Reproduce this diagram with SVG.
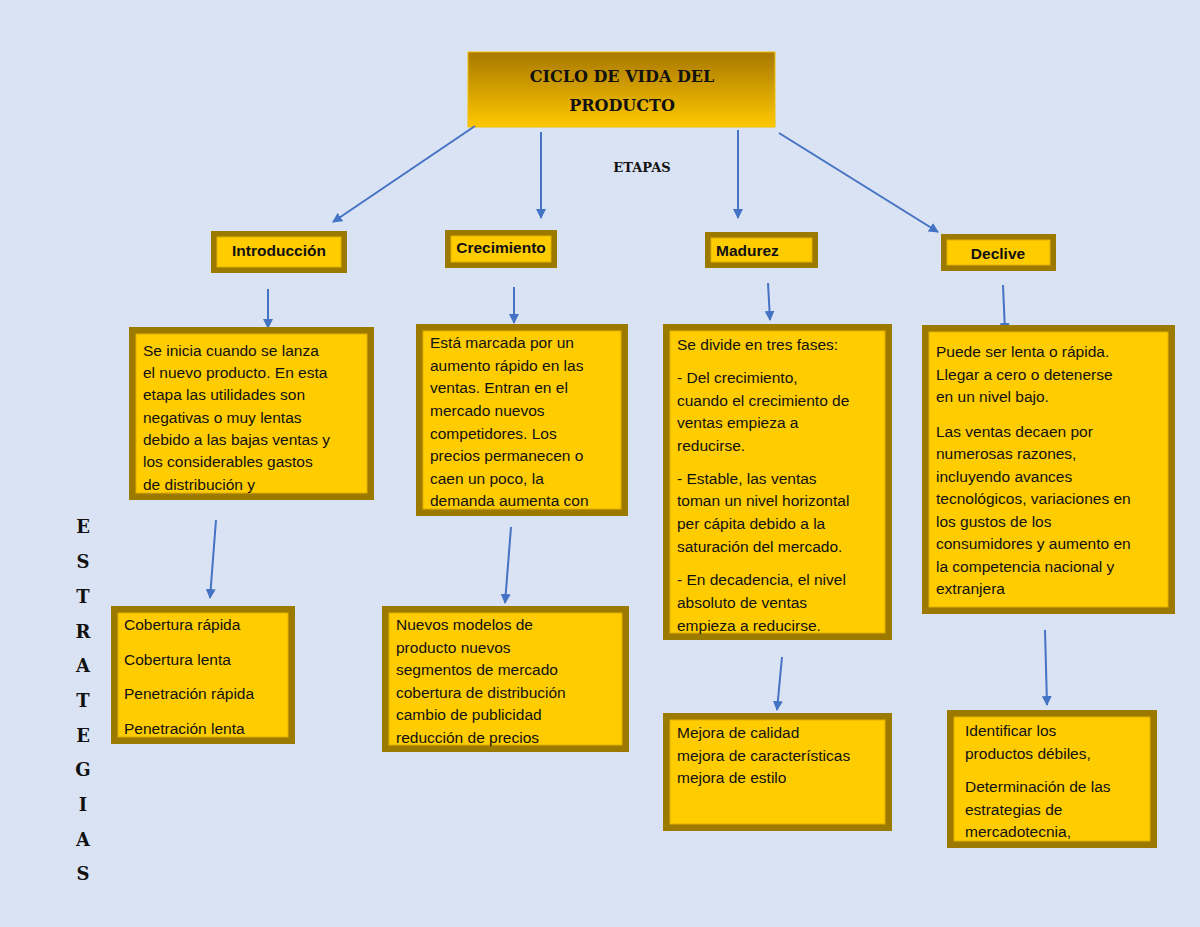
<svg xmlns="http://www.w3.org/2000/svg" width="1200" height="927" viewBox="0 0 1200 927">
<style>
.o{fill:#9c7a00}.i{fill:#ffcc00;stroke:#e0b000;stroke-width:1}
.t{font-family:"Liberation Sans",Arial,sans-serif;font-size:15.5px;fill:#111}
.h{font-family:"Liberation Sans",Arial,sans-serif;font-size:15.5px;font-weight:bold;fill:#111}
.s{font-family:"DejaVu Serif",serif;font-weight:bold;fill:#111}
.c{stroke:#4472c4;stroke-width:2;fill:none;marker-end:url(#a)}
</style>
<defs>
<marker id="a" viewBox="0 0 10 10" refX="9" refY="5" markerWidth="5" markerHeight="5" orient="auto"><path d="M0,0L10,5L0,10z" fill="#4472c4"/></marker>
<linearGradient id="g" x1="0" y1="0" x2="0" y2="1"><stop offset="0" stop-color="#a87800"/><stop offset="1" stop-color="#ffc800"/></linearGradient>
</defs>
<rect width="1200" height="927" fill="#dae3f3"/>
<g id="title"><rect x="468" y="52" width="307" height="75" fill="url(#g)" stroke="#f0c000"/>
<text class="s" font-size="16" x="622" y="82" text-anchor="middle">CICLO DE VIDA DEL</text>
<text class="s" font-size="16" x="622" y="111" text-anchor="middle">PRODUCTO</text></g>
<text id="etapas" class="s" font-size="13" x="642" y="172" text-anchor="middle">ETAPAS</text>
<g id="connectors">
<line class="c" x1="475" y1="126" x2="333" y2="222"/>
<line class="c" x1="541" y1="132" x2="541" y2="218"/>
<line class="c" x1="738" y1="130" x2="738" y2="218"/>
<line class="c" x1="779" y1="133" x2="938" y2="232"/>
<line class="c" x1="268" y1="289" x2="268" y2="328"/>
<line class="c" x1="514" y1="287" x2="514" y2="323"/>
<line class="c" x1="768" y1="283" x2="770" y2="320"/>
<line class="c" x1="1003" y1="285" x2="1005" y2="332"/>
<line class="c" x1="216" y1="520" x2="210" y2="598"/>
<line class="c" x1="511" y1="527" x2="505" y2="603"/>
<line class="c" x1="782" y1="657" x2="777" y2="710"/>
<line class="c" x1="1045" y1="630" x2="1047" y2="705"/>
</g>
<g id="intro"><rect class="o" x="211" y="231" width="136" height="42"/><rect class="i" x="217" y="237" width="124" height="30"/><text class="h" x="279" y="256" text-anchor="middle">Introducción</text></g>
<g id="crec"><rect class="o" x="445" y="230" width="112" height="38"/><rect class="i" x="451" y="236" width="100" height="26"/><text class="h" x="501" y="253" text-anchor="middle">Crecimiento</text></g>
<g id="mad"><rect class="o" x="705" y="232" width="113" height="36"/><rect class="i" x="711" y="238" width="101" height="24"/><text class="h" x="716" y="256">Madurez</text></g>
<g id="decl"><rect class="o" x="941" y="234" width="115" height="37"/><rect class="i" x="947" y="240" width="103" height="25"/><text class="h" x="998" y="259" text-anchor="middle">Declive</text></g>
<g id="t1"><rect class="o" x="129" y="327" width="245" height="173"/><rect class="i" x="136" y="334" width="231" height="159"/>
<text class="t" x="143" y="356">Se inicia cuando se lanza</text><text class="t" x="143" y="378">el nuevo producto. En esta</text><text class="t" x="143" y="400">etapa las utilidades son</text><text class="t" x="143" y="423">negativas o muy lentas</text><text class="t" x="143" y="445">debido a las bajas ventas y</text><text class="t" x="143" y="467">los considerables gastos</text><text class="t" x="143" y="490">de distribución y</text></g>
<g id="t2"><rect class="o" x="416" y="324" width="212" height="192"/><rect class="i" x="423" y="331" width="198" height="178"/>
<text class="t" x="430" y="348">Está marcada por un</text><text class="t" x="430" y="371">aumento rápido en las</text><text class="t" x="430" y="393">ventas. Entran en el</text><text class="t" x="430" y="416">mercado nuevos</text><text class="t" x="430" y="439">competidores. Los</text><text class="t" x="430" y="461">precios permanecen o</text><text class="t" x="430" y="484">caen un poco, la</text><text class="t" x="430" y="506">demanda aumenta con</text></g>
<g id="t3"><rect class="o" x="663" y="324" width="229" height="316"/><rect class="i" x="670" y="331" width="215" height="302"/>
<text class="t" x="677" y="350">Se divide en tres fases:</text><text class="t" x="677" y="383">- Del crecimiento,</text><text class="t" x="677" y="406">cuando el crecimiento de</text><text class="t" x="677" y="428">ventas empieza a</text><text class="t" x="677" y="451">reducirse.</text><text class="t" x="677" y="484">- Estable, las ventas</text><text class="t" x="677" y="506">toman un nivel horizontal</text><text class="t" x="677" y="529">per cápita debido a la</text><text class="t" x="677" y="552">saturación del mercado.</text><text class="t" x="677" y="585">- En decadencia, el nivel</text><text class="t" x="677" y="608">absoluto de ventas</text><text class="t" x="677" y="631">empieza a reducirse.</text></g>
<g id="t4"><rect class="o" x="922" y="325" width="253" height="289"/><rect class="i" x="929" y="332" width="239" height="275"/>
<text class="t" x="936" y="357">Puede ser lenta o rápida.</text><text class="t" x="936" y="380">Llegar a cero o detenerse</text><text class="t" x="936" y="402">en un nivel bajo.</text><text class="t" x="936" y="437">Las ventas decaen por</text><text class="t" x="936" y="459">numerosas razones,</text><text class="t" x="936" y="482">incluyendo avances</text><text class="t" x="936" y="504">tecnológicos, variaciones en</text><text class="t" x="936" y="527">los gustos de los</text><text class="t" x="936" y="549">consumidores y aumento en</text><text class="t" x="936" y="572">la competencia nacional y</text><text class="t" x="936" y="594">extranjera</text></g>
<g id="s1"><rect class="o" x="111" y="606" width="184" height="138"/><rect class="i" x="118" y="613" width="170" height="124"/>
<text class="t" x="124" y="630">Cobertura rápida</text><text class="t" x="124" y="665">Cobertura lenta</text><text class="t" x="124" y="699">Penetración rápida</text><text class="t" x="124" y="734">Penetración lenta</text></g>
<g id="s2"><rect class="o" x="382" y="606" width="247" height="146"/><rect class="i" x="389" y="613" width="233" height="132"/>
<text class="t" x="396" y="630">Nuevos modelos de</text><text class="t" x="396" y="653">producto        nuevos</text><text class="t" x="396" y="675">segmentos de mercado</text><text class="t" x="396" y="698">cobertura de distribución</text><text class="t" x="396" y="720">cambio de publicidad</text><text class="t" x="396" y="743">reducción de precios</text></g>
<g id="s3"><rect class="o" x="663" y="713" width="229" height="118"/><rect class="i" x="670" y="720" width="215" height="104"/>
<text class="t" x="677" y="738">Mejora de calidad</text><text class="t" x="677" y="761">mejora de características</text><text class="t" x="677" y="783">mejora de estilo</text></g>
<g id="s4"><rect class="o" x="947" y="710" width="210" height="138"/><rect class="i" x="954" y="717" width="196" height="124"/>
<text class="t" x="965" y="736">Identificar los</text><text class="t" x="965" y="759">productos débiles,</text><text class="t" x="965" y="792">Determinación de las</text><text class="t" x="965" y="815">estrategias de</text><text class="t" x="965" y="837">mercadotecnia,</text></g>
<g id="estrategias" class="s" font-size="18" text-anchor="middle">
<text x="83" y="533">E</text><text x="83" y="568">S</text><text x="83" y="603">T</text><text x="83" y="638">R</text><text x="83" y="672">A</text><text x="83" y="707">T</text><text x="83" y="742">E</text><text x="83" y="776">G</text><text x="83" y="811">I</text><text x="83" y="846">A</text><text x="83" y="880">S</text></g>
</svg>
